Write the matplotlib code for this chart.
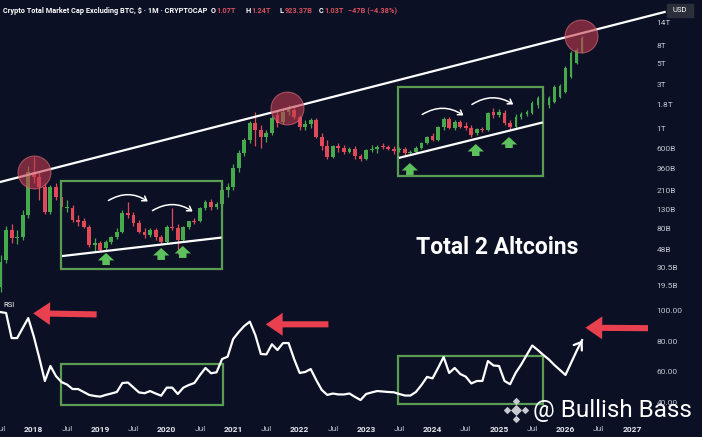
import numpy as np
import matplotlib.pyplot as plt
from matplotlib.patches import FancyArrowPatch, Rectangle

plt.rcParams['font.family'] = ['Roboto', 'DejaVu Sans']

# monthly candles Jul 2017 .. Apr 2026, values in billions USD
# x is counted in months from Jan 2018
first_month = -6
opens = [18.7, 36.8, 77.9, 63.8, 65.4, 113, 333, 294, 229, 122, 229, 178, 135, 135, 100, 97.6,
         84.0, 53.5, 56.3, 49.6, 57.7, 65.4, 74.1, 119, 113, 92.8, 74.1, 68.75, 77.9, 65.4,
         57.7, 84.0, 81.9, 60.7, 84.0, 97.6, 97.6, 135, 157, 139, 149, 212, 229, 368, 536, 741,
         1136, 953, 799, 884, 1387, 1164, 1495, 1571, 1319, 1027, 1107, 1223, 799, 638, 485, 638,
         607, 549, 592, 497, 461, 577, 592, 638, 622, 592, 577, 592, 536, 549, 607, 688, 820,
         741, 1027, 1255, 1002, 1164, 1053, 1002, 884, 977, 953, 1495, 1387, 1458, 1136, 1027,
         1319, 1422, 1458, 1781, 2018, 1781, 1920, 2176, 2467, 3590, 5099, 6715]
highs = [41.7, 86.1, 90.6, 77.9, 128.5, 387, 485, 333, 253, 240, 253, 187, 165, 146, 113, 105,
         88.3, 63.8, 59.2, 60.7, 67.0, 81.9, 128.5, 157, 122, 100, 81.9, 81.9, 81.9, 68.75,
         88.3, 135, 90.6, 86.1, 97.6, 105, 139, 165, 169, 157, 223, 253, 407, 577, 780, 1193,
         1495, 1080, 953, 1353, 1571, 1652, 1781, 1737, 1387, 1223, 1286, 1286, 884, 741, 654,
         688, 654, 622, 638, 522, 592, 654, 654, 688, 654, 638, 622, 622, 577, 638, 706, 820,
         884, 1053, 1319, 1319, 1223, 1223, 1164, 1080, 1002, 1027, 1495, 1652, 1611, 1571,
         1223, 1422, 1495, 1571, 1968, 2231, 2406, 2231, 2939, 3014, 4729, 6882, 7420, 10021]
lows = [16.5, 34.1, 56.3, 54.9, 60.7, 105, 253, 165, 116, 116, 165, 128.5, 122, 95.2, 86.1,
        81.9, 50.9, 44.9, 46.1, 47.2, 54.9, 62.2, 72.3, 105, 86.1, 72.3, 63.8, 65.4, 60.7, 54.9,
        56.3, 77.9, 42.7, 57.7, 79.9, 90.6, 95.2, 128.5, 128.5, 132, 142, 178, 212, 333, 497,
        688, 638, 607, 706, 841, 1027, 1107, 1387, 1255, 953, 953, 1002, 780, 577, 461, 473,
        549, 522, 536, 461, 438, 449, 549, 536, 592, 577, 522, 549, 510, 510, 536, 592, 671,
        723, 723, 953, 977, 953, 1002, 953, 799, 841, 906, 929, 1286, 1319, 1080, 977, 1002,
        1255, 1353, 1422, 1652, 1873, 1652, 1873, 2122, 2406, 3501, 4972, 6549]
closes = [35.0, 77.9, 63.8, 65.4, 113, 333, 294, 229, 122, 229, 178, 139, 139, 100, 95.2,
          84.0, 53.5, 56.3, 47.2, 57.7, 65.4, 74.1, 119, 113, 92.8, 74.1, 68.75, 77.9, 65.4,
          57.7, 84.0, 81.9, 60.7, 84.0, 97.6, 95.2, 135, 157, 139, 149, 212, 229, 368, 536, 741,
          1136, 953, 799, 884, 1286, 1136, 1495, 1611, 1319, 1027, 1107, 1223, 799, 638, 485,
          638, 607, 549, 592, 497, 461, 577, 592, 622, 622, 592, 563, 592, 536, 549, 607, 688,
          799, 741, 1027, 1255, 1002, 1164, 1027, 1002, 841, 977, 953, 1458, 1387, 1495, 1136,
          1027, 1319, 1422, 1495, 1873, 2122, 2288, 2122, 2795, 2866, 4497, 6549, 7057, 9531]
rsi = [98.7, 98.1, 81.9, 81.9, 88.4, 94.8, 83.0, 69.0, 54.2, 63.9, 57.4, 53.5, 51.9, 49.0,
       49.0, 47.1, 45.2, 44.5, 44.1, 45.2, 46.1, 47.1, 52.9, 53.2, 50.0, 46.8, 46.3, 47.7, 46.1,
       44.7, 49.9, 49.9, 45.8, 49.9, 51.6, 52.9, 58.0, 62.6, 59.2, 59.8, 68.4, 69.9, 81.3, 85.8,
       89.7, 92.5, 83.9, 71.6, 71.4, 77.9, 74.2, 78.7, 78.7, 68.4, 59.4, 60.0, 61.9, 54.8, 48.4,
       45.2, 46.1, 45.5, 45.5, 46.1, 43.9, 41.9, 45.8, 46.8, 47.7, 47.4, 47.1, 46.9, 45.8, 44.8,
       44.8, 47.1, 51.6, 56.8, 55.9, 62.6, 69.7, 59.4, 62.6, 58.7, 57.0, 52.6, 54.2, 54.2, 67.1,
       64.2, 63.9, 54.2, 52.1, 59.4, 64.8, 71.0, 77.1, 74.2, 71.0, 68.1, 64.5, 61.3, 58.1, 65.8,
       73.5, 80.6]

price_ticks = [19.5, 30.5, 48, 80, 130, 210, 360, 600, 1000, 1800, 3000, 5000, 8000, 14000]
price_labels = ['19.5B', '30.5B', '48B', '80B', '130B', '210B', '360B', '600B', '1T',
                '1.8T', '3T', '5T', '8T', '14T']
rsi_ticks = [40, 60, 80, 100]
time_ticks = list(range(-6, 109, 6))
time_labels = ['Jul', '2018', 'Jul', '2019', 'Jul', '2020', 'Jul', '2021', 'Jul', '2022', 'Jul',
               '2023', 'Jul', '2024', 'Jul', '2025', 'Jul', '2026', 'Jul', '2027']

# annotations (month, value)
top_line = ([-6.1, 113.9], [259, 18300])
tops = ([0, 45.7, 98.8], [333, 1652, 10021])
boxes = [(5.0, 33.9, 29.4, 266), (65.8, 92.0, 301, 2817)]
supports = [([5.3, 33.7], [40.7, 64.3]), ([66.1, 91.7], [477, 1144])]
bounces = [(13.05, 32.4, 43.9), (23.0, 36.8, 49.7), (26.9, 38.7, 52.3),
           (67.9, 309, 417), (79.8, 497, 671), (85.8, 607, 800)]
swings = [((13.05, 157), (21.0, 153)), ((21.0, 122), (29.1, 119)),
          ((69.7, 1353), (78.0, 1319)), ((78.7, 1738), (87.0, 1738))]
rsi_boxes = [(5.0, 34.1, 38.7, 65.0), (65.8, 91.9, 39.2, 70.3)]
rsi_arrows = [((11.35, 97.2), (-0.1, 97.9)), ((53.2, 90.8), (41.9, 90.8)),
              ((110.9, 88.3), (99.6, 88.6))]

bg = '#0c1024'
green = '#46a94b'
red = '#e04a58'
box_col = '#5a9c52'
axis_txt = '#c3c6cf'

fig = plt.figure(figsize=(7.02, 4.37), dpi=100, facecolor=bg)
ax = fig.add_axes([0, 1 - 298 / 437, 648 / 702, 298 / 437], facecolor=bg)
ax2 = fig.add_axes([0, 1 - 420 / 437, 648 / 702, 120 / 437], facecolor=bg, sharex=ax)

x = np.arange(len(opens)) + first_month
o = np.array(opens)
c = np.array(closes)
up = c >= o
cols = np.where(up, green, red)
widths = np.where(x >= 87, 0.4, 0.7)
ax.vlines(x, lows, highs, colors=cols, lw=0.9, zorder=3)
ax.bar(x, np.abs(c - o), bottom=np.minimum(o, c), width=widths, color=cols, zorder=3)

ax.set_yscale('log')
ax.set_ylim(14.2, 24700)
ax.set_xlim(-6.1, 110.9)
ax.set_yticks(price_ticks)
ax.set_yticklabels(price_labels)
ax.yaxis.set_minor_locator(plt.NullLocator())
ax.yaxis.tick_right()
ax.tick_params(axis='y', length=0, pad=6, labelsize=6, labelcolor=axis_txt)
ax.tick_params(axis='x', length=0, labelbottom=False)
for s in ax.spines.values():
    s.set_visible(False)

ax.plot(*top_line, color='white', lw=1.6, clip_on=False, zorder=6)
ax.scatter(*tops, s=560, color='#c23b4e', alpha=0.6, edgecolors='#e0707c',
           linewidths=0.8, zorder=7)
for x0, x1, y0, y1 in boxes:
    ax.add_patch(Rectangle((x0, y0), x1 - x0, y1 - y0, fill=False, ec=box_col, lw=1.6, zorder=5))
for xs, ys in supports:
    ax.plot(xs, ys, color='white', lw=1.6, zorder=6)
for bx, b0, b1 in bounces:
    ax.add_patch(FancyArrowPatch((bx, b0), (bx, b1),
                                 arrowstyle='simple,head_length=0.6,head_width=1.3,tail_width=0.6',
                                 mutation_scale=9, color='#5cc05c', lw=0, zorder=6,
                                 shrinkA=0, shrinkB=0))
for p0, p1 in swings:
    ax.add_patch(FancyArrowPatch(p0, p1, connectionstyle='arc3,rad=-0.35',
                                 arrowstyle='->,head_length=3,head_width=2',
                                 color='white', lw=1.1, zorder=6))

ax.text(497, 437 - 248, 'Total 2 Altcoins', transform=None, color='white', fontsize=16.5,
        fontweight='bold', ha='center', va='center')

# RSI panel
ax2.plot(x, rsi, color='white', lw=1.6, zorder=4)
ax2.annotate('', xy=(99.4, 81.9), xytext=(x[-1] - 0.6, rsi[-1] - 4),
             arrowprops=dict(arrowstyle='->,head_length=0.5,head_width=0.35', color='white', lw=1.6))
for x0, x1, y0, y1 in rsi_boxes:
    ax2.add_patch(Rectangle((x0, y0), x1 - x0, y1 - y0, fill=False, ec=box_col, lw=1.6, zorder=3))
for tail, tip in rsi_arrows:
    ax2.add_patch(FancyArrowPatch(tail, tip,
                                  arrowstyle='simple,head_length=1.1,head_width=1.5,tail_width=0.4',
                                  mutation_scale=11, color='#e8404e', lw=0, zorder=5,
                                  clip_on=False, shrinkA=0, shrinkB=0))
ax2.set_ylim(29, 106.5)
ax2.set_yticks(rsi_ticks)
ax2.set_yticklabels(['%.2f' % t for t in rsi_ticks])
ax2.yaxis.tick_right()
ax2.tick_params(axis='y', length=0, pad=6, labelsize=6, labelcolor=axis_txt)
ax2.set_xticks(time_ticks)
ax2.set_xticklabels(time_labels)
ax2.tick_params(axis='x', length=0, pad=4, labelsize=6, labelcolor=axis_txt)
for lab in ax2.get_xticklabels():
    if lab.get_text() != 'Jul':
        lab.set_fontweight('bold')
        lab.set_color('#e6e8ee')
for s in ax2.spines.values():
    s.set_visible(False)
ax2.text(3, 437 - 305, 'RSI', transform=None, color='white', fontsize=5.5, va='center')

# header and overlays in pixel space
ov = fig.add_axes([0, 0, 1, 1], zorder=10)
ov.set_xlim(0, 702)
ov.set_ylim(437, 0)
ov.axis('off')
hdr_red = '#d6505e'
hdr = [(3, 'Crypto Total Market Cap Excluding BTC, $ · 1M · CRYPTOCAP', 'white'),
       (211, 'O', 'white'), (216, '1.07T', hdr_red), (246, 'H', 'white'), (251, '1.24T', hdr_red),
       (280, 'L', 'white'), (285, '923.37B', hdr_red), (319, 'C', 'white'), (324, '1.03T', hdr_red),
       (348, '−47B (−4.38%)', hdr_red)]
for hx, t, col in hdr:
    ov.text(hx, 11, t, color=col, fontsize=5.3, va='center', fontweight='bold')
ov.add_patch(Rectangle((667, 4), 26, 13, color='#2b2f3c', zorder=2))
ov.text(680, 10.5, 'USD', color='white', fontsize=5.5, ha='center', va='center', zorder=3)

# watermark
logo = '#c9cbd0'
ov.scatter([516], [410], marker='D', s=22, color=logo)
ov.scatter([516, 516, 507, 525], [401, 419, 410, 410], marker='D', s=8, color=logo)
ov.text(533, 410, '@ Bullish Bass', color='white', fontsize=17.5, va='center')

fig.savefig('out.png', dpi=100, facecolor=bg)
